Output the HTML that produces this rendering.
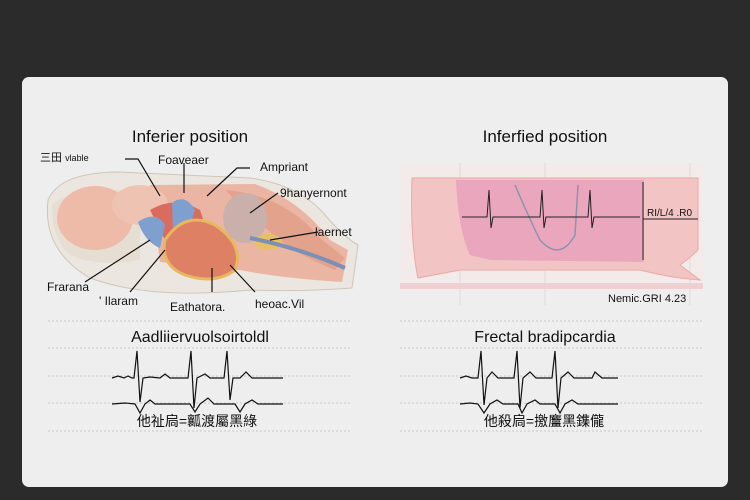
<!DOCTYPE html>
<html><head><meta charset="utf-8"><style>
body{margin:0;width:750px;height:500px;background:#2b2b2b;overflow:hidden}
svg{display:block}
text{font-family:"Liberation Sans","Noto Sans CJK SC",sans-serif;fill:#111}
</style></head><body>
<svg width="750" height="500" viewBox="0 0 750 500">
<rect x="22" y="77" width="706" height="410" rx="7" fill="#eeeeef"/>
<g stroke="#c8c8c8" stroke-dasharray="2 2" stroke-width="1">
<line x1="48" y1="321" x2="352" y2="321"/><line x1="48" y1="348" x2="352" y2="348"/><line x1="48" y1="376" x2="352" y2="376"/><line x1="48" y1="403" x2="352" y2="403"/><line x1="48" y1="431" x2="352" y2="431"/>
<line x1="400" y1="321" x2="703" y2="321"/><line x1="400" y1="348" x2="703" y2="348"/><line x1="400" y1="376" x2="703" y2="376"/><line x1="400" y1="403" x2="703" y2="403"/><line x1="400" y1="431" x2="703" y2="431"/>
</g>
<text x="190" y="142" font-size="17" text-anchor="middle">Inferier position</text>
<text x="545" y="142" font-size="17" text-anchor="middle">Inferfied position</text>
<!-- baby illustration -->
<path d="M48 200 Q60 172 120 172 L250 178 Q300 185 325 215 Q345 238 358 245 L352 288 Q300 292 250 290 Q150 300 90 278 Q42 250 48 200Z" fill="#ebe6df" stroke="#cfc6b8"/>
<path d="M150 185 L255 184 Q300 200 330 240 L348 250 L342 282 Q280 278 240 270 L160 262Z" fill="#eab6a3"/>
<path d="M225 190 Q285 195 320 238 L345 258 L335 270 Q290 252 270 232 Q240 205 225 190Z" fill="#e3a28c"/>
<ellipse cx="245" cy="218" rx="22" ry="25" fill="#c9b0ab"/>
<ellipse cx="268" cy="242" rx="14" ry="8" fill="#e6c062"/>
<path d="M250 238 Q300 248 345 268" stroke="#7c8fb6" stroke-width="4" fill="none"/>
<path d="M52 205 Q70 188 120 190 L140 192 L140 260 Q100 268 70 255 Q52 240 52 205Z" fill="#e6ded3"/>
<ellipse cx="95" cy="218" rx="38" ry="32" fill="#eebba8"/>
<ellipse cx="140" cy="205" rx="28" ry="20" fill="#efc3b1"/>
<path d="M150 210 Q175 195 200 210 L210 240 Q195 265 170 250 Z" fill="#d96c5e"/>
<path d="M138 222 Q155 210 165 225 L160 248 Q145 242 138 222Z" fill="#7f9fcf"/>
<path d="M172 203 Q185 193 195 210 L185 240 L173 232Z" fill="#7f9fcf"/>
<path d="M165 240 Q185 210 215 225 Q245 245 235 270 Q215 285 185 275 Q160 265 165 240Z" fill="#dd8064" stroke="#e8b860" stroke-width="3"/>
<g stroke="#111" stroke-width="1.2" fill="none">
<path d="M125 159 L138 159 L160 196"/><path d="M184 163 L184 193"/><path d="M250 168 L237 168 L207 196"/>
<path d="M278 193 L250 213"/><path d="M318 232 L270 240"/><path d="M85 282 L150 240"/><path d="M130 292 L165 250"/>
<path d="M212 292 L212 268"/><path d="M255 292 L230 265"/>
</g>
<text x="40" y="161" font-size="11">三田 <tspan font-size="9">vlable</tspan></text>
<text x="158" y="164" font-size="12">Foaveaer</text>
<text x="260" y="171" font-size="12">Ampriant</text>
<text x="280" y="197" font-size="12">9hanyernont</text>
<text x="315" y="236" font-size="12">laernet</text>
<text x="47" y="291" font-size="12">Frarana</text>
<text x="99" y="305" font-size="12">' Ilaram</text>
<text x="170" y="311" font-size="12">Eathatora.</text>
<text x="255" y="308" font-size="12">heoac.Vil</text>
<!-- right panel -->
<rect x="400" y="163" width="303" height="125" fill="#f3eaea"/>
<g stroke="#e2dada" stroke-width="1"><line x1="460" y1="163" x2="460" y2="305"/><line x1="545" y1="163" x2="545" y2="305"/><line x1="690" y1="163" x2="690" y2="305"/></g>
<path d="M412 178 L698 178 L698 250 Q690 258 680 265 L700 280 Q670 278 640 270 L460 270 L418 278 Q410 240 412 178Z" fill="#f2c5c4" stroke="#e8aaa4"/>
<path d="M456 180 L644 180 L644 262 L490 260 L470 255 Q458 230 456 180Z" fill="#eaa6bd"/>
<rect x="400" y="283" width="303" height="6" fill="#efcfd2"/>
<path d="M515 185 Q530 220 540 240 Q560 262 575 235 L578 185" stroke="#8c94ad" stroke-width="1.5" fill="none"/>
<polyline points="462,217 487,217 489,190 491,228 493,217 540,217 542,190 544,228 546,217 588,217 590,190 592,228 594,217 640,217" fill="none" stroke="#222" stroke-width="1"/>
<line x1="643" y1="182" x2="643" y2="260" stroke="#222"/>
<line x1="643" y1="219" x2="698" y2="219" stroke="#222"/>
<text x="647" y="216" font-size="10">RI/L/4 .R0</text>
<text x="608" y="302" font-size="11">Nemic.GRI 4.23</text>
<text x="200" y="342" font-size="16" text-anchor="middle">Aadliiervuolsoirtoldl</text>
<text x="545" y="342" font-size="16" text-anchor="middle">Frectal bradipcardia</text>
<g fill="none" stroke="#111" stroke-width="1.2">
<polyline points="112,378 118,376 124,378 128,376 132,378 134,378 137,351 140,402 143,378 150,377 160,378 165,374 170,378 180,378 188,378 191,351 194,408 197,378 205,374 210,378 220,378 224,378 227,351 230,400 233,378 240,378 246,372 252,378 283,378"/>
<polyline points="112,404 125,403 135,404 140,413 145,404 150,400 155,404 180,404 190,404 195,412 200,404 208,398 214,404 235,404 240,412 245,404 252,400 258,404 283,404"/>
<polyline points="460,378 466,376 472,378 478,378 481,351 484,405 487,378 492,372 498,378 510,378 514,378 517,351 520,408 523,378 530,372 536,378 548,378 552,378 555,351 558,408 561,378 568,372 574,378 592,378 595,372 602,378 618,378"/>
<polyline points="460,404 470,403 478,404 484,413 490,404 497,400 503,404 518,404 522,413 527,404 535,400 540,404 555,404 560,413 565,404 572,400 578,404 618,404"/>
</g>
<text x="197" y="426" font-size="14" text-anchor="middle">他祉扃=瓤渡屬黑綠</text>
<text x="544" y="426" font-size="14" text-anchor="middle">他殺扃=撽麠黑鏶儱</text>
</svg>
</body></html>
